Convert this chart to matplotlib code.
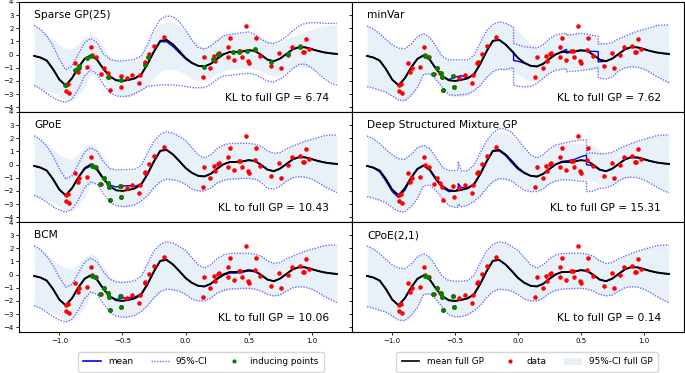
import matplotlib
matplotlib.use("Agg")
import matplotlib.pyplot as plt
from matplotlib.lines import Line2D
from matplotlib.patches import Patch

# ---------------- data ----------------
x_grid = [-1.2, -1.15, -1.1, -1.05, -1.0, -0.95, -0.9, -0.85, -0.8, -0.75, -0.7, -0.65, -0.6, -0.55,
          -0.5, -0.45, -0.4, -0.35, -0.3, -0.25, -0.2, -0.15, -0.1, -0.05, 0.0, 0.05, 0.1, 0.15,
          0.2, 0.25, 0.3, 0.35, 0.4, 0.45, 0.5, 0.55, 0.6, 0.65, 0.7, 0.75, 0.8, 0.85, 0.9, 0.95,
          1.0, 1.05, 1.1, 1.15, 1.2]

full_mean = [-0.10, -0.22, -0.45, -1.10, -1.90, -2.33, -1.80, -0.98, -0.32, -0.05, -0.40, -1.10, -1.65, -1.95,
             -2.00, -1.92, -1.80, -1.50, -0.70, 0.25, 1.05, 1.12, 0.78, 0.28, -0.25, -0.62, -0.85, -0.90,
             -0.70, -0.32, 0.02, 0.20, 0.20, 0.24, 0.34, 0.28, -0.02, -0.38, -0.50, -0.30, 0.05, 0.40, 0.57, 0.55,
             0.42, 0.28, 0.17, 0.10, 0.05]
full_upper = [2.18, 1.95, 1.60, 1.15, 0.75, 0.50, 0.45, 0.80, 1.35, 1.60, 1.30, 0.60, -0.15, -0.45,
              -0.50, -0.50, -0.45, -0.05, 0.90, 1.80, 2.30, 2.50, 2.40, 2.15, 1.85, 1.30, 0.75, 0.50,
              0.75, 1.20, 1.50, 1.60, 1.62, 1.62, 1.62, 1.55, 1.40, 1.05, 0.85, 0.92, 1.20, 1.40, 1.60, 1.78,
              1.92, 2.05, 2.20, 2.25, 2.25]
full_lower = [-2.43, -2.55, -2.70, -2.85, -3.15, -3.45, -3.50, -3.10, -2.50, -1.50, -1.45, -1.90, -2.50, -3.05,
              -3.20, -3.20, -3.05, -2.75, -2.35, -1.75, -1.30, -1.10, -1.15, -1.25, -1.50, -1.85, -2.00, -2.00,
              -1.80, -1.40, -1.20, -1.10, -1.08, -1.05, -1.04, -1.10, -1.25, -1.50, -1.62, -1.55, -1.25, -1.00, -0.92, -0.95,
              -1.10, -1.35, -1.65, -1.90, -2.13]

data_x = [-0.947, -0.934, -0.950, -0.923, -0.876, -0.855, -0.844, -0.783, -0.749, -0.738, -0.706, -0.669,
          -0.643, -0.617, -0.605, -0.595, -0.513, -0.511, -0.466, -0.421, -0.360, -0.368, -0.325, -0.320,
          -0.289, -0.246, -0.172, 0.135, 0.148, 0.196, 0.222, 0.230, 0.256, 0.264, 0.336, 0.336, 0.349,
          0.381, 0.421, 0.434, 0.447, 0.479, 0.492, 0.503, 0.548, 0.558, 0.593, 0.680, 0.744, 0.760,
          0.810, 0.844, 0.910, 0.929, 0.942, 0.955, 0.982]
data_y = [-2.31, -2.23, -2.74, -2.94, -0.66, -1.29, -1.04, -0.92, 0.60, -0.03, -0.20, -1.47,
          -1.04, -1.42, -1.72, -2.69, -1.62, -2.44, -1.80, -1.55, -1.55, -2.18, -0.66, -0.54,
          0.03, 0.68, 1.32, -1.72, -0.15, -0.99, -0.10, -0.46, 0.03, 0.10, 0.56, -0.15, 1.29,
          -0.41, 0.30, 0.30, -0.15, 2.18, -0.48, -0.61, 0.35, 1.24, -0.10, -0.86, 0.10, -1.04,
          -0.03, 0.60, 0.66, 0.22, 0.22, 1.19, 0.41]

# --- Sparse GP(25)
sparse_mean = [-0.10, -0.22, -0.45, -1.10, -1.90, -2.33, -1.80, -0.98, -0.32, -0.05, -0.40, -1.10, -1.65, -1.95,
               -2.00, -1.92, -1.80, -1.50, -0.70, 0.22, 0.98, 0.98, 0.62, 0.15, -0.32, -0.65, -0.85, -0.90,
               -0.70, -0.32, 0.02, 0.20, 0.20, 0.24, 0.34, 0.28, -0.02, -0.38, -0.50, -0.30, 0.05, 0.40, 0.57, 0.55,
               0.42, 0.28, 0.17, 0.10, 0.05]
sparse_upper = [2.23, 1.92, 1.42, 0.66, -0.35, -1.16, -0.86, 0.03, 0.91, 1.22, 0.91, 0.03, -0.35, -0.48,
                -0.48, -0.43, -0.35, -0.10, 0.78, 1.92, 2.68, 2.94, 2.89, 2.50, 1.90, 1.10, 0.55, 0.42,
                0.66, 1.04, 1.42, 1.54, 1.59, 1.67, 1.72, 1.54, 1.16, 0.91, 0.86, 1.04, 1.37, 1.80, 2.18, 2.38,
                2.43, 2.43, 2.38, 2.38, 2.38]
sparse_lower = [-2.33, -2.58, -2.94, -3.27, -3.52, -3.60, -3.39, -2.63, -1.62, -1.16, -1.49, -2.25, -2.89, -3.14,
                -3.19, -3.14, -2.94, -2.70, -2.40, -2.35, -2.30, -2.30, -2.30, -2.35, -2.42, -2.50, -2.52, -2.51,
                -2.25, -1.87, -1.62, -1.57, -1.52, -1.47, -1.42, -1.49, -1.75, -2.00, -2.08, -1.87, -1.49, -1.06, -0.73, -0.73,
                -0.99, -1.42, -1.82, -2.13, -2.33]
sparse_ind_x = [-0.955, -0.873, -0.855, -0.841, -0.783, -0.749, -0.617, -0.511, -0.325, -0.294,
                0.143, 0.217, 0.256, 0.376, 0.421, 0.487, 0.553, 0.680, 0.812, 0.905]
sparse_ind_y = [-2.31, -1.19, -1.04, -0.86, -0.26, -0.10, -1.72, -1.93, -0.78, -0.15,
                -0.92, -0.36, 0.05, 0.18, 0.18, 0.28, 0.41, -0.53, 0.03, 0.60]

# --- minVar (own x positions because of the jumps)
minvar_x = [-1.2, -1.15, -1.1, -1.05, -1.0, -0.95, -0.9, -0.85, -0.8, -0.75, -0.7, -0.65, -0.6, -0.55,
            -0.5, -0.45, -0.4, -0.35, -0.3, -0.25, -0.2, -0.15, -0.1, -0.05, -0.035, -0.035, 0.0, 0.05, 0.1, 0.15,
            0.2, 0.25, 0.3, 0.35, 0.386, 0.386, 0.45, 0.5, 0.55, 0.6, 0.638, 0.638, 0.7, 0.75, 0.8, 0.85, 0.9, 0.95,
            1.0, 1.05, 1.1, 1.15, 1.2]
minvar_mean = [-0.10, -0.22, -0.45, -1.10, -1.90, -2.33, -1.80, -0.98, -0.32, -0.05, -0.40, -1.10, -1.65, -1.90,
               -1.70, -1.60, -1.75, -1.50, -0.70, 0.25, 1.05, 1.12, 0.78, 0.30, 0.20, -0.45, -0.50, -0.65, -0.85, -0.90,
               -0.70, -0.32, 0.02, 0.25, 0.40, 0.12, 0.22, 0.30, 0.28, 0.25, 0.23, -0.55, -0.50, -0.30, 0.05, 0.40, 0.57, 0.55,
               0.42, 0.28, 0.17, 0.10, 0.05]
minvar_upper = [2.18, 1.95, 1.60, 1.15, 0.75, 0.50, 0.45, 0.80, 1.35, 1.60, 1.30, 0.60, -0.15, -0.40,
                -0.40, -0.40, -0.40, -0.05, 0.90, 1.80, 2.30, 2.50, 2.40, 2.15, 2.05, 0.85, 0.75, 0.60, 0.55, 0.50,
                0.75, 1.20, 1.50, 1.60, 1.62, 1.45, 1.55, 1.62, 1.55, 1.45, 1.40, 0.80, 0.82, 0.92, 1.20, 1.40, 1.60, 1.78,
                1.92, 2.05, 2.20, 2.25, 2.25]
minvar_lower = [-2.43, -2.55, -2.70, -2.85, -3.15, -3.45, -3.50, -3.10, -2.50, -1.50, -1.45, -1.90, -2.50, -3.05,
                -3.10, -3.05, -3.00, -2.75, -2.35, -1.75, -1.30, -1.10, -1.15, -1.00, -1.00, -2.30, -2.40, -2.45, -2.40, -2.20,
                -1.80, -1.40, -1.20, -1.10, -1.08, -1.30, -1.25, -1.20, -1.15, -1.05, -0.95, -1.75, -1.85, -1.70, -1.25, -1.00, -0.92, -0.95,
                -1.10, -1.35, -1.65, -1.90, -2.13]

# --- GPoE
gpoe_mean = [-0.10, -0.22, -0.45, -1.10, -1.90, -2.33, -1.80, -0.98, -0.25, 0.05, -0.30, -1.05, -1.55, -1.70,
             -1.62, -1.60, -1.65, -1.45, -0.70, 0.25, 1.05, 1.12, 0.78, 0.28, -0.25, -0.62, -0.85, -0.90,
             -0.70, -0.32, 0.02, 0.20, 0.20, 0.24, 0.34, 0.28, -0.02, -0.38, -0.50, -0.30, 0.05, 0.40, 0.57, 0.55,
             0.42, 0.28, 0.17, 0.10, 0.05]
gpoe_upper = [2.20, 1.90, 1.40, 0.65, -0.30, -1.10, -0.85, 0.05, 0.95, 1.30, 1.00, 0.20, -0.30, -0.40,
              -0.40, -0.38, -0.35, -0.05, 0.90, 1.80, 2.30, 2.50, 2.40, 2.15, 1.85, 1.30, 0.75, 0.50,
              0.75, 1.20, 1.50, 1.60, 1.62, 1.62, 1.62, 1.55, 1.40, 1.05, 0.85, 0.92, 1.20, 1.40, 1.60, 1.78,
              1.92, 2.05, 2.20, 2.25, 2.25]
gpoe_lower = [-2.33, -2.55, -2.85, -3.20, -3.45, -3.60, -3.40, -2.70, -1.75, -1.30, -1.50, -2.20, -2.85, -3.10,
              -3.20, -3.15, -3.05, -2.75, -2.35, -1.75, -1.30, -1.10, -1.15, -1.25, -1.50, -1.85, -2.00, -2.00,
              -1.80, -1.40, -1.20, -1.10, -1.08, -1.05, -1.04, -1.10, -1.35, -1.80, -1.85, -1.65, -1.25, -1.00, -0.92, -0.95,
              -1.10, -1.35, -1.65, -1.90, -2.13]

# --- Deep Structured Mixture GP (own x positions because of the jumps)
dsm_x = [-1.2, -1.15, -1.1, -1.05, -1.0, -0.95, -0.9, -0.85, -0.8, -0.75, -0.7, -0.65, -0.6, -0.55,
         -0.5, -0.475, -0.475, -0.45, -0.4, -0.35, -0.3, -0.25, -0.2, -0.15, -0.1, -0.05, 0.0, 0.05, 0.1, 0.15,
         0.2, 0.25, 0.3, 0.35, 0.4, 0.45, 0.5, 0.545, 0.545, 0.6, 0.65, 0.7, 0.75, 0.8, 0.85, 0.9, 0.95,
         1.0, 1.05, 1.1, 1.15, 1.2]
dsm_mean = [-0.10, -0.25, -0.55, -1.25, -2.05, -2.50, -1.95, -1.05, -0.35, -0.08, -0.45, -1.20, -1.75, -2.05,
            -2.00, -1.85, -1.45, -1.75, -1.75, -1.50, -0.75, 0.20, 1.00, 1.05, 0.70, 0.15, -0.35, -0.65, -0.85, -0.92,
            -0.72, -0.35, 0.02, 0.25, 0.30, 0.40, 0.60, 0.72, 0.00, -0.10, -0.40, -0.50, -0.32, 0.02, 0.38, 0.55, 0.52,
            0.40, 0.27, 0.16, 0.10, 0.05]
dsm_upper = [2.18, 1.95, 1.60, 1.15, 0.75, 0.45, 0.40, 0.75, 1.30, 1.45, 1.20, 0.50, -0.20, -0.45,
             -0.45, -0.40, 0.25, -0.50, -0.45, -0.05, 0.90, 1.80, 2.40, 2.75, 2.70, 2.45, 1.90, 1.30, 0.75, 0.50,
             0.75, 1.20, 1.50, 1.60, 1.70, 1.80, 1.87, 1.87, 0.86, 0.90, 0.80, 0.85, 0.92, 1.20, 1.40, 1.60, 1.78,
             1.92, 2.05, 2.20, 2.25, 2.25]
dsm_lower = [-2.43, -2.55, -2.70, -2.90, -3.25, -3.55, -3.60, -3.20, -2.60, -1.60, -1.55, -2.00, -2.60, -3.10,
             -3.25, -3.25, -3.00, -3.20, -3.10, -2.80, -2.40, -1.80, -1.30, -1.05, -1.10, -1.25, -1.60, -1.95, -2.05, -2.05,
             -1.85, -1.45, -1.25, -1.15, -1.15, -1.20, -1.25, -1.29, -2.05, -2.00, -1.80, -1.75, -1.60, -1.25, -1.00, -0.95, -1.00,
             -1.15, -1.40, -1.70, -1.95, -2.15]

# --- BCM
bcm_mean = [-0.10, -0.22, -0.45, -1.10, -1.90, -2.33, -1.80, -0.98, -0.30, -0.02, -0.38, -1.10, -1.65, -1.88,
            -1.80, -1.75, -1.70, -1.45, -0.70, 0.25, 1.05, 1.12, 0.78, 0.28, -0.25, -0.62, -0.85, -0.90,
            -0.70, -0.35, -0.05, 0.12, 0.12, 0.18, 0.28, 0.22, -0.02, -0.38, -0.50, -0.30, 0.05, 0.40, 0.57, 0.55,
            0.42, 0.28, 0.17, 0.10, 0.05]
bcm_upper = [2.20, 1.90, 1.40, 0.70, -0.20, -0.95, -0.75, 0.10, 0.95, 1.25, 0.95, 0.20, -0.35, -0.55,
             -0.60, -0.55, -0.45, -0.10, 0.85, 1.80, 2.30, 2.50, 2.40, 2.15, 1.85, 1.30, 0.75, 0.50,
             0.75, 1.20, 1.50, 1.60, 1.62, 1.62, 1.62, 1.55, 1.40, 1.05, 0.85, 0.92, 1.20, 1.40, 1.60, 1.78,
             1.92, 2.05, 2.20, 2.25, 2.25]
bcm_lower = [-2.35, -2.55, -2.85, -3.20, -3.45, -3.60, -3.40, -2.70, -1.80, -1.30, -1.50, -2.20, -2.85, -3.15,
             -3.25, -3.20, -3.10, -2.80, -2.35, -1.75, -1.30, -1.10, -1.15, -1.25, -1.50, -1.85, -2.00, -2.00,
             -1.80, -1.40, -1.20, -1.10, -1.08, -1.05, -1.04, -1.10, -1.25, -1.50, -1.62, -1.55, -1.25, -1.00, -0.92, -0.95,
             -1.10, -1.35, -1.65, -1.90, -2.13]

# --- CPoE(2,1)
cpoe_mean = full_mean
cpoe_upper = full_upper
cpoe_lower = full_lower

expert_ind_x = [-0.741, -0.714, -0.675, -0.643, -0.616, -0.608, -0.595, -0.516, -0.511]
expert_ind_y = [-0.10, -0.20, -1.47, -1.04, -1.42, -1.72, -2.72, -1.62, -2.46]

titles = ["Sparse GP(25)", "minVar", "GPoE", "Deep Structured Mixture GP", "BCM", "CPoE(2,1)"]
kl_values = [6.74, 7.62, 10.43, 15.31, 10.06, 0.14]

panels = [
    (x_grid, sparse_mean, sparse_upper, sparse_lower, sparse_ind_x, sparse_ind_y),
    (minvar_x, minvar_mean, minvar_upper, minvar_lower, expert_ind_x, expert_ind_y),
    (x_grid, gpoe_mean, gpoe_upper, gpoe_lower, expert_ind_x, expert_ind_y),
    (dsm_x, dsm_mean, dsm_upper, dsm_lower, [], []),
    (x_grid, bcm_mean, bcm_upper, bcm_lower, expert_ind_x, expert_ind_y),
    (x_grid, cpoe_mean, cpoe_upper, cpoe_lower, expert_ind_x, expert_ind_y),
]

# ---------------- figure ----------------
W, H = 685, 373
fig = plt.figure(figsize=(W / 100, H / 100), dpi=100)

col_l = [19 / W, 352 / W]
col_w = [333 / W, 332 / W]
row_top = [2, 112, 222]
row_h = 110

fill_color = (0.122, 0.467, 0.706, 0.1)
ci_color = "#6b6bff"

for i, (px, pm, pu, pl, ix, iy) in enumerate(panels):
    r, c = divmod(i, 2)
    ax = fig.add_axes([col_l[c], 1 - (row_top[r] + row_h) / H, col_w[c], row_h / H])
    ax.fill_between(x_grid, full_lower, full_upper, color=fill_color, lw=0)
    ax.plot(px, pu, ls=(0, (1, 1)), color=ci_color, lw=1.0)
    ax.plot(px, pl, ls=(0, (1, 1)), color=ci_color, lw=1.0)
    ax.plot(px, pm, color="blue", lw=1.0)
    ax.plot(x_grid, full_mean, color="black", lw=1.4)
    ax.plot(data_x, data_y, ".", color="red", ms=4.5)
    ax.plot(ix, iy, ".", color="green", ms=5)
    ax.set_xlim(-1.32, 1.32)
    ax.set_ylim(-4.36, 4.0)
    ax.set_yticks([-4, -3, -2, -1, 0, 1, 2, 3, 4])
    ax.set_xticks([-1.0, -0.5, 0.0, 0.5, 1.0])
    ax.tick_params(labelsize=5, length=2.5, width=0.6, pad=1.5)
    if c == 1:
        ax.tick_params(labelleft=False)
    if r < 2:
        ax.tick_params(axis="x", bottom=False, labelbottom=False)
    for s in ax.spines.values():
        s.set_linewidth(0.8)
    ax.text(0.045, 0.88, titles[i], transform=ax.transAxes, fontsize=7.7, va="center", ha="left")
    ax.text(0.93, 0.125, "KL to full GP = %.2f" % kl_values[i], transform=ax.transAxes,
            fontsize=7.7, va="center", ha="right")

h_left = [Line2D([], [], color="blue", lw=1.2),
          Line2D([], [], color=ci_color, lw=1.0, ls=(0, (1, 1))),
          Line2D([], [], color="green", marker=".", ls="none", ms=4)]
h_right = [Line2D([], [], color="black", lw=1.2),
           Line2D([], [], color="red", marker=".", ls="none", ms=4),
           Patch(facecolor=fill_color, edgecolor="none")]
leg_kw = dict(loc="center", ncol=3, fontsize=6.4, frameon=True, handlelength=2.0,
              columnspacing=2.0, borderpad=0.6, fancybox=True)
fig.legend(h_left, ["mean", "95%-CI", "inducing points"], bbox_to_anchor=(201 / W, 1 - 362 / H), **leg_kw)
fig.legend(h_right, ["mean full GP", "data", "95%-CI full GP"], bbox_to_anchor=(527 / W, 1 - 362 / H), **leg_kw)

fig.savefig("out.png", dpi=100)
